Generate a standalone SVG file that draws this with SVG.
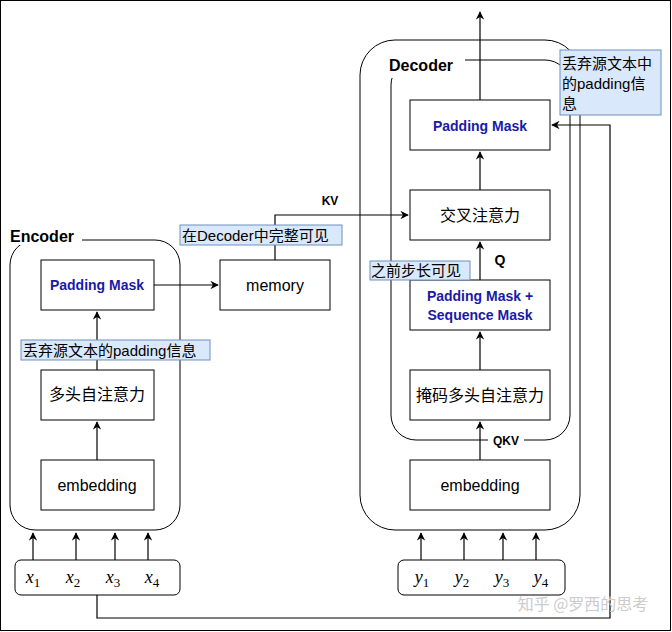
<svg xmlns="http://www.w3.org/2000/svg" width="672" height="632" viewBox="0 0 672 632">
<style>
.b{fill:#fff;stroke:#000;stroke-width:1}
.c{fill:none;stroke:#000;stroke-width:1.2}
.t{font-family:"Liberation Sans","Noto Sans CJK SC",sans-serif;font-size:16px;fill:#000;text-anchor:middle}
.m{font-family:"Liberation Sans",sans-serif;font-size:14px;font-weight:bold;fill:#1a1aa6;text-anchor:middle}
.h{font-family:"Liberation Sans",sans-serif;font-size:16px;font-weight:bold;fill:#000}
.k{font-family:"Liberation Sans",sans-serif;font-size:12px;font-weight:bold;fill:#000;text-anchor:middle}
.l{fill:#dae8fc;stroke:#6c8ebf;stroke-width:1}
.lt{font-family:"Liberation Sans","Noto Sans CJK SC",sans-serif;font-size:15px;fill:#000}
.v{font-family:"Liberation Serif","DejaVu Serif",serif;font-style:italic;font-size:18px;text-anchor:middle}
.s{font-family:"Liberation Serif",serif;font-style:normal;font-size:13px}
</style>
<defs><marker id="a" viewBox="0 0 10 10" refX="9" refY="5" markerWidth="7" markerHeight="7" orient="auto"><path d="M0,0L10,5L0,10L3,5z" fill="#000"/></marker></defs>
<rect x="0.5" y="0.5" width="670" height="630" fill="#fff" stroke="#000"/>
<g id="encoder">
<rect x="10" y="240" width="170" height="290" rx="25" class="b"/>
<rect x="8" y="225" width="74" height="20" fill="#fff"/>
<text x="10" y="242" class="h">Encoder</text>
</g>
<g id="decoder">
<rect x="360" y="40" width="220" height="490" rx="35" class="b"/>
<rect x="391" y="60" width="179" height="380" rx="25" class="b"/>
<rect x="385" y="50" width="80" height="28" fill="#fff"/>
<text x="389" y="71" class="h">Decoder</text>
<rect x="488" y="432" width="36" height="16" fill="#fff"/>
<text x="506" y="445" class="k">QKV</text>
</g>
<g id="connectors" class="c">
<path d="M97,460V422" marker-end="url(#a)"/>
<path d="M97,370V312" marker-end="url(#a)"/>
<path d="M154,285H218" marker-end="url(#a)"/>
<path d="M275,260V215H408" marker-end="url(#a)"/>
<path d="M480,460V422" marker-end="url(#a)"/>
<path d="M480,370V332" marker-end="url(#a)"/>
<path d="M480,280V242" marker-end="url(#a)"/>
<path d="M480,190V152" marker-end="url(#a)"/>
<path d="M480,100V12" marker-end="url(#a)"/>
<path d="M97,595V618H610V125H552" marker-end="url(#a)"/>
<path d="M33,560V533" marker-end="url(#a)"/><path d="M76,560V533" marker-end="url(#a)"/><path d="M115,560V533" marker-end="url(#a)"/><path d="M148,560V533" marker-end="url(#a)"/>
<path d="M421,560V533" marker-end="url(#a)"/><path d="M464,560V533" marker-end="url(#a)"/><path d="M503,560V533" marker-end="url(#a)"/><path d="M536,560V533" marker-end="url(#a)"/>
</g>
<text x="330" y="205" class="k">KV</text>
<text x="500" y="265" class="k" style="font-size:14px">Q</text>
<g id="enc-pm"><rect x="41" y="260" width="113" height="50" class="b"/><text x="97" y="290" class="m">Padding Mask</text></g>
<g id="enc-attn"><rect x="41" y="370" width="113" height="50" class="b"/><text x="97" y="400" class="t">多头自注意力</text></g>
<g id="enc-emb"><rect x="41" y="460" width="113" height="50" class="b"/><text x="97" y="491" class="t">embedding</text></g>
<g id="memory"><rect x="220" y="260" width="110" height="50" class="b"/><text x="275" y="291" class="t">memory</text></g>
<g id="dec-pm"><rect x="410" y="100" width="140" height="50" class="b"/><text x="480" y="131" class="m">Padding Mask</text></g>
<g id="cross"><rect x="410" y="190" width="140" height="50" class="b"/><text x="480" y="221" class="t">交叉注意力</text></g>
<g id="pmsm"><rect x="410" y="280" width="140" height="50" class="b"/><text x="480" y="301" class="m">Padding Mask +</text><text x="480" y="320" class="m">Sequence Mask</text></g>
<g id="masked"><rect x="410" y="370" width="140" height="50" class="b"/><text x="480" y="401" class="t">掩码多头自注意力</text></g>
<g id="dec-emb"><rect x="410" y="460" width="140" height="50" class="b"/><text x="480" y="491" class="t">embedding</text></g>
<g id="xin"><rect x="15" y="560" width="165" height="35" rx="6" class="b"/>
<text x="33" y="583" class="v">x<tspan class="s" dy="4">1</tspan></text>
<text x="73" y="583" class="v">x<tspan class="s" dy="4">2</tspan></text>
<text x="113" y="583" class="v">x<tspan class="s" dy="4">3</tspan></text>
<text x="152" y="583" class="v">x<tspan class="s" dy="4">4</tspan></text></g>
<g id="yin"><rect x="398" y="560" width="167" height="35" rx="6" class="b"/>
<text x="422" y="583" class="v">y<tspan class="s" dy="4">1</tspan></text>
<text x="462" y="583" class="v">y<tspan class="s" dy="4">2</tspan></text>
<text x="502" y="583" class="v">y<tspan class="s" dy="4">3</tspan></text>
<text x="541" y="583" class="v">y<tspan class="s" dy="4">4</tspan></text></g>
<g id="lbl1"><rect x="21" y="340" width="189" height="20" class="l"/><text x="23" y="356" class="lt">丢弃源文本的padding信息</text></g>
<g id="lbl2"><rect x="180" y="225" width="162" height="20" class="l"/><text x="182" y="241" class="lt">在Decoder中完整可见</text></g>
<g id="lbl3"><rect x="370" y="261" width="100" height="19" class="l"/><text x="371" y="276" class="lt">之前步长可见</text></g>
<g id="lbl4"><rect x="560" y="50" width="101" height="65" class="l"/><text x="562" y="69" class="lt">丢弃源文本中</text><text x="562" y="89" class="lt">的padding信</text><text x="562" y="109" class="lt">息</text></g>
<text x="583" y="610" style="font-family:'Noto Sans CJK SC',sans-serif;font-size:16px;fill:#ccc;text-anchor:middle">知乎 @罗西的思考</text>
</svg>
